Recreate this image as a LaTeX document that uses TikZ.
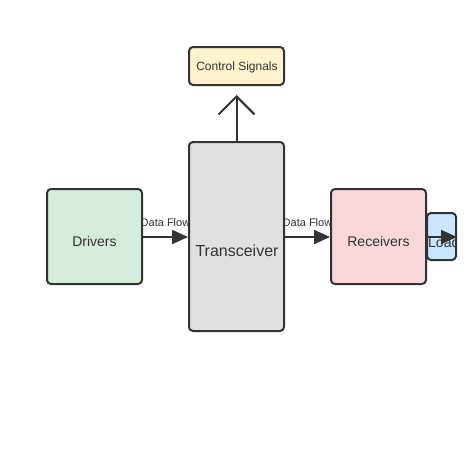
\documentclass[tikz,border=0pt]{standalone}
\usepackage{fontspec}
\setmainfont{Liberation Sans}
\usetikzlibrary{arrows.meta}
\definecolor{edge}{HTML}{333333}
\definecolor{cgreen}{HTML}{D5EBDC}
\definecolor{cgray}{HTML}{E0E0E0}
\definecolor{cyellow}{HTML}{FFF2CC}
\definecolor{cpink}{HTML}{F8D7DA}
\definecolor{cblue}{HTML}{CCE5FF}
\begin{document}
\begin{tikzpicture}[x=1pt,y=-1pt,
  box/.style={draw=edge,line width=2pt,rounded corners=4pt,inner sep=0pt,text=edge,align=center},
  txt/.style={text=edge,inner sep=0pt},
  flow/.style={draw=edge,line width=2pt,-{Triangle[length=16pt,width=14pt]}},
  lbl/.style={text=edge,font=\fontsize{11}{13}\selectfont,inner sep=0pt}]
\useasboundingbox (0,0) rectangle (474,474);
\fill[white] (0,0) rectangle (474,474);
\node[box,fill=cgreen,minimum width=95pt,minimum height=95pt] (drv) at (94.5,236.5) {};
\node[txt,font=\fontsize{14}{16}\selectfont] (drvt) at (94.5,241.5) {Drivers};
\node[box,fill=cgray,minimum width=95pt,minimum height=189pt] (trx) at (236.5,236.5) {};
\node[txt,font=\fontsize{16}{18}\selectfont] (trxt) at (237,251) {Transceiver};
\node[box,fill=cyellow,minimum width=95pt,minimum height=38pt] (ctl) at (236.5,66) {};
\node[txt,font=\fontsize{12}{14}\selectfont] (ctlt) at (237,67.5) {Control Signals};
\node[box,fill=cpink,minimum width=95pt,minimum height=95pt] (rcv) at (378.5,236.5) {};
\node[txt,font=\fontsize{14}{16}\selectfont] (rcvt) at (378.5,241.5) {Receivers};
\node[box,fill=cblue,minimum width=29pt,minimum height=47pt] (load) at (441.5,236.5) {};
\begin{scope}
\clip (427,213) rectangle (455,260);
\node[txt,font=\fontsize{14}{16}\selectfont,anchor=west] (loadt) at (428,242) {Load};
\end{scope}
\coordinate (ctip) at (236.5,95);
\draw[draw=edge,line width=2pt,-{Straight Barb[length=18pt,width=36pt,line width=2pt]}] (trx.north) -- (ctip);
\draw[flow] (drv.east |- 0,237) -- (trx.west |- 0,237) node[lbl,midway,above=9pt] {Data Flow};
\draw[flow] (trx.east |- 0,237) -- (rcv.west |- 0,237) node[lbl,midway,above=9pt] {Data Flow};
\draw[flow] (rcv.east |- 0,237) -- (load.east |- 0,237);
\end{tikzpicture}
\end{document}
